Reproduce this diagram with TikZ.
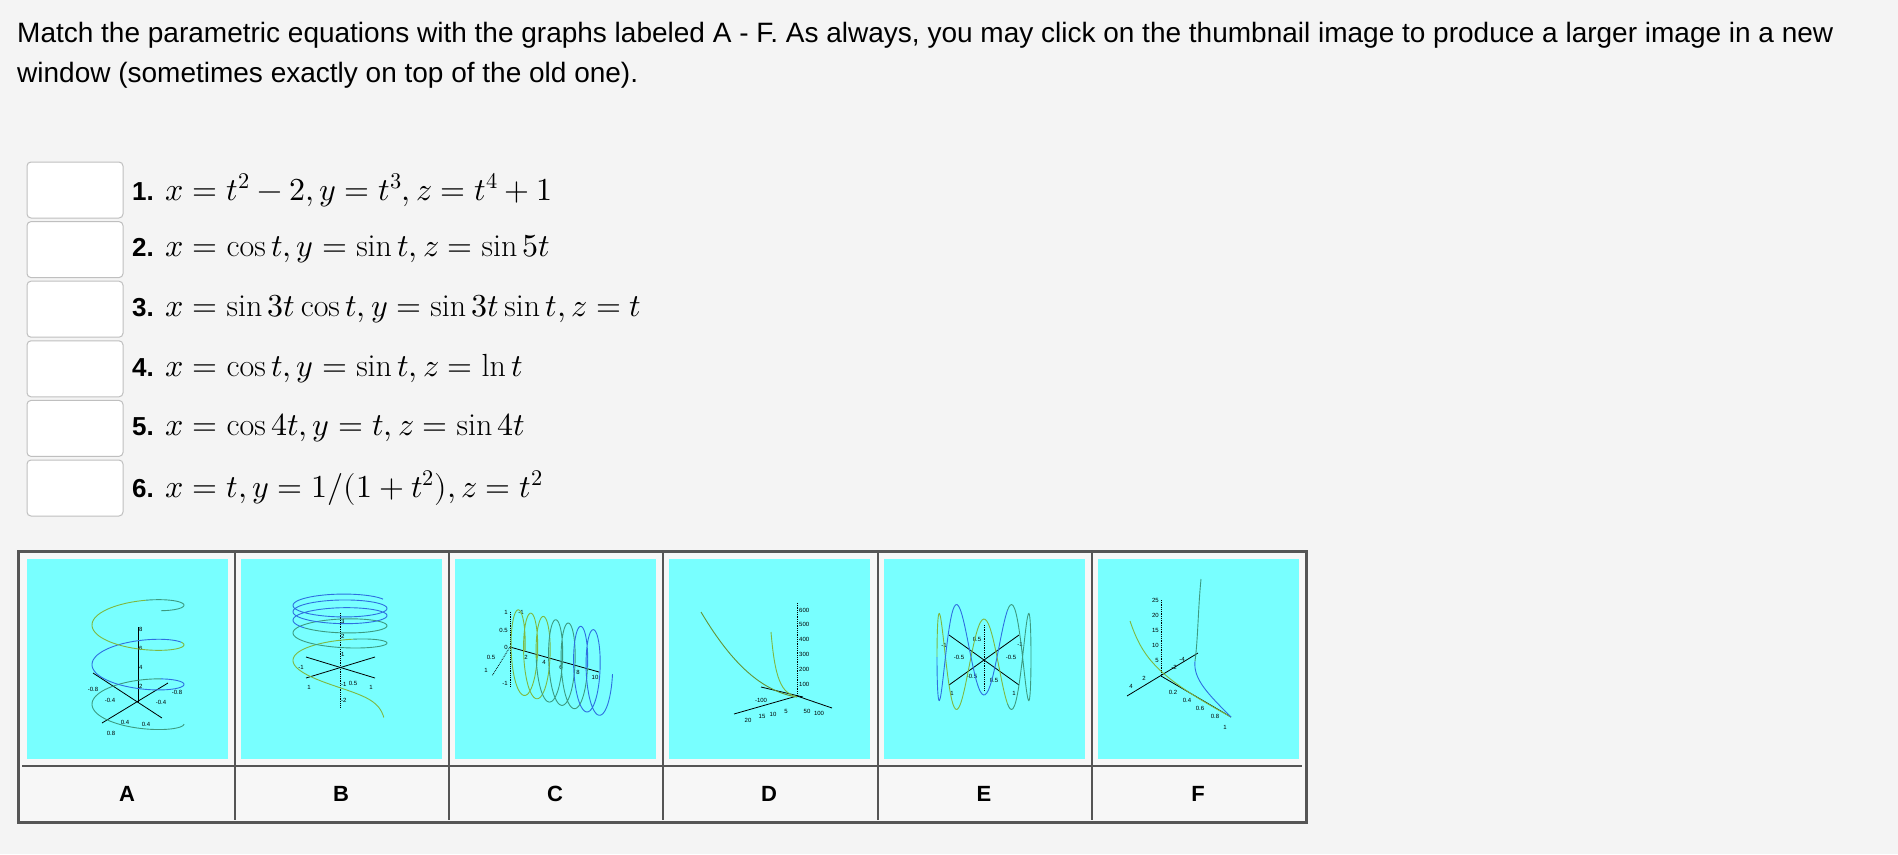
\documentclass[tikz,border=0pt]{standalone}
\usepackage{fontspec}
\setmainfont{Liberation Sans}
\usepackage{unicode-math}
\setmathfont{Latin Modern Math}
\setmathrm{Latin Modern Roman}
\setoperatorfont\mathrm
\definecolor{pg}{HTML}{F4F4F4}
\definecolor{cy}{HTML}{78FFFF}
\definecolor{cA}{HTML}{7FB840}
\definecolor{cB}{HTML}{3C9A80}
\definecolor{cC}{HTML}{2E6FE0}
\definecolor{bd}{HTML}{555555}
\tikzset{
  inbox/.style={draw=black!25,fill=white,rounded corners=4pt,line width=1pt},
  eq/.style={anchor=west,inner sep=0pt,font=\fontsize{32}{35}\selectfont},
  lab/.style={font=\bfseries\fontsize{22}{26}\selectfont},
  tk/.style={font=\fontsize{6}{6}\selectfont,inner sep=0pt},
  ax/.style={black,line width=0.8pt},
  cv/.style={line width=0.9pt}
}
\begin{document}
\begin{tikzpicture}[x=1pt,y=-1pt]
\fill[pg] (0,0) rectangle (1898,854);
\useasboundingbox (0,0) rectangle (1898,854);
\node[anchor=base west,inner sep=0pt,font=\fontsize{28}{32}\selectfont] (t1) at (17,42) {Match the parametric equations with the graphs labeled A - F. As always, you may click on the thumbnail image to produce a larger image in a new};
\node[anchor=base west,inner sep=0pt,font=\fontsize{28}{32}\selectfont] (t2) at (17,82) {window (sometimes exactly on top of the old one).};
% input boxes and equations
\foreach \i/\e [count=\k from 0] in {1/{$x=t^2-2, y=t^3, z=t^4+1$},2/{$x=\cos t, y=\sin t, z=\sin 5t$},3/{$x=\sin 3t\cos t, y=\sin 3t\sin t, z=t$},4/{$x=\cos t, y=\sin t, z=\ln t$},5/{$x=\cos 4t, y=t, z=\sin 4t$},6/{$x=t, y=1/(1+t^2), z=t^2$}}{
  \pgfmathsetmacro{\yy}{190+59.6*\k}
  \draw[inbox] (27,\yy-28) rectangle (123,\yy+28);
  \node[eq] (e\i) at (132,\yy) {{\fontsize{26}{30}\selectfont\bfseries \i.} \e};
}
% table
\fill[white!97!black] (18,551) rectangle (1306,822);
\draw[bd,line width=3pt] (18,551) rectangle (1306,822);
\draw[bd,line width=1.2pt] (22,766) -- (1302,766);
\foreach \x in {235,449,663,878,1092}{\draw[bd,line width=1.5pt] (\x,553) -- (\x,820);}
\foreach \x/\l [count=\k from 0] in {27/A,241/B,455/C,669/D,884/E,1098/F}{
  \fill[cy] (\x,559) rectangle (\x+201,759);
  \node[lab] (L\l) at (\x+100,794) {\l};
}
% ---- A ----
\begin{scope}[shift={(27,559)}]
\draw[ax] (111,144) -- (111,68);
\draw[ax] (66,114) -- (135,159);
\draw[ax] (75,164) -- (141,124);
\foreach \v/\yy in {8/70,6/89,4/108,2/127}{\node[tk,anchor=west] at (112,\yy) {\v};}
\node[tk] at (66,130) {-0.8};\node[tk] at (83,141) {-0.4};
\node[tk] at (150,133) {-0.8};\node[tk] at (134,143) {-0.4};
\node[tk] at (98,163) {0.4};\node[tk] at (119,165) {0.4};\node[tk] at (84,174) {0.8};
\draw[cv,cB,domain=0:300,samples=60,smooth] plot ({111+46*cos(\x)}, {165-0.11*\x+14*sin(\x)});
\draw[cv,cC,domain=300:700,samples=80,smooth] plot ({111+46*cos(\x)}, {165-0.11*\x+14*sin(\x)});
\draw[cv,cA,domain=700:1000,samples=60,smooth] plot ({111+46*cos(\x)}, {165-0.11*\x+14*sin(\x)});
\draw[cv,cB,domain=1000:1140,samples=30,smooth] plot ({111+46*cos(\x)}, {165-0.11*\x+14*sin(\x)});
\end{scope}
% ---- B ----
\begin{scope}[shift={(241,559)}]
\draw[ax,densely dotted] (99,54) -- (99,148);
\draw[ax] (65,98) -- (134,119);
\draw[ax] (65,119) -- (134,98);
\foreach \v/\yy in {3/62,2/77,1/95,-1/125,-2/141}{\node[tk,anchor=west] at (100,\yy) {\v};}
\node[tk] at (60,108) {-1};\node[tk] at (68,128) {1};\node[tk] at (130,128) {1};\node[tk] at (112,124) {0.5};
\draw[cv,cA,domain=0.37:5,samples=80,smooth,variable=\t] plot ({99+47*cos(\t r)}, {130-25*ln(\t)+10*sin(\t r)});
\draw[cv,cB,domain=5:15,samples=120,smooth,variable=\t] plot ({99+47*cos(\t r)}, {130-25*ln(\t)+10*sin(\t r)});
\draw[cv,cC,domain=15:31,samples=160,smooth,variable=\t] plot ({99+47*cos(\t r)}, {130-25*ln(\t)+10*sin(\t r)});
\end{scope}
% ---- C ----
\begin{scope}[shift={(455,559)}]
\draw[ax,densely dotted] (55,53) -- (55,128);
\draw[ax] (55,88) -- (144,113);
\draw[ax,densely dotted] (55,88) -- (37,117);
\foreach \v/\yy in {1/53,0.5/71,0/88,-1/124}{\node[tk,anchor=east] at (53,\yy) {\v};}
\node[tk] at (36,98) {0.5};\node[tk] at (31,111) {1};\node[tk] at (66,53) {-1};
\foreach \v/\xx in {2/71,4/89,6/106,8/123,10/140}{\node[tk] at (\xx,\xx*0.28+79) {\v};}
\draw[cv,cA,domain=0:900,samples=150,smooth,variable=\t] plot ({60+\t/360*12.5+10*cos(\t)}, {92+\t/360*3.3-42*sin(\t)});
\draw[cv,cB,domain=900:1800,samples=150,smooth,variable=\t] plot ({60+\t/360*12.5+10*cos(\t)}, {92+\t/360*3.3-42*sin(\t)});
\draw[cv,cC,domain=1800:2520,samples=120,smooth,variable=\t] plot ({60+\t/360*12.5+10*cos(\t)}, {92+\t/360*3.3-42*sin(\t)});
\end{scope}
% ---- D ----
\begin{scope}[shift={(669,559)}]
\draw[ax,densely dotted] (128,44) -- (128,137);
\draw[ax] (65,155) -- (128,137) -- (163,149);
\draw[ax] (92,128) -- (134,138);
\foreach \v/\yy in {600/51,500/65,400/80,300/95,200/110,100/125}{\node[tk,anchor=west] at (130,\yy) {\v};}
\node[tk] at (92,141) {-100};\node[tk] at (79,161) {20};\node[tk] at (93,157) {15};\node[tk] at (104,155) {10};\node[tk] at (117,152) {5};\node[tk] at (138,152) {50};\node[tk] at (150,154) {100};
\draw[cv,cA!80!black] (32,53) .. controls (60,100) and (90,132) .. (128,138);
\draw[cv,cA] (102,73) .. controls (106,120) and (112,134) .. (128,138);
\end{scope}
% ---- E ----
\begin{scope}[shift={(884,559)}]
\draw[ax] (65,76) -- (135,126);
\draw[ax] (65,126) -- (135,76);
\draw[ax,densely dotted] (100,66) -- (100,132);
\node[tk] at (60,86) {-1};\node[tk] at (75,98) {-0.5};\node[tk] at (93,80) {0.5};\node[tk] at (88,117) {-0.5};\node[tk] at (110,121) {0.5};\node[tk] at (68,134) {1};\node[tk] at (130,134) {1};\node[tk] at (136,85) {-1};\node[tk] at (127,98) {-0.5};
\draw[cv,cA,domain=0:120,samples=60,smooth,variable=\t] plot ({100-47*cos(\t)}, {98+8*sin(\t)-46*sin(5*\t)});
\draw[cv,cB,domain=120:240,samples=60,smooth,variable=\t] plot ({100-47*cos(\t)}, {98+8*sin(\t)-46*sin(5*\t)});
\draw[cv,cC,domain=240:360,samples=60,smooth,variable=\t] plot ({100-47*cos(\t)}, {98+8*sin(\t)-46*sin(5*\t)});
\end{scope}
% ---- F ----
\begin{scope}[shift={(1098,559)}]
\draw[ax,densely dotted] (63,41) -- (63,117);
\draw[ax] (63,117) -- (133,158);
\draw[ax] (29,137) -- (100,94);
\foreach \v/\yy in {25/41,20/56,15/71,10/86,5/101}{\node[tk,anchor=east] at (61,\yy) {\v};}
\node[tk] at (33,127) {4};\node[tk] at (46,119) {2};\node[tk] at (76,108) {-2};\node[tk] at (84,100) {-4};
\foreach \v/\xx in {0.2/75,0.4/89,0.6/102,0.8/117}{\node[tk] at (\xx,\xx*0.58+90) {\v};}
\node[tk] at (127,168) {1};
\draw[cv,cA] (32,62) .. controls (45,100) and (60,118) .. (133,158);
\draw[cv,cC] (133,158) .. controls (110,135) and (95,120) .. (97,102);
\draw[cv,cB] (97,102) .. controls (100,80) and (100,50) .. (103,20);
\end{scope}
\end{tikzpicture}
\end{document}
